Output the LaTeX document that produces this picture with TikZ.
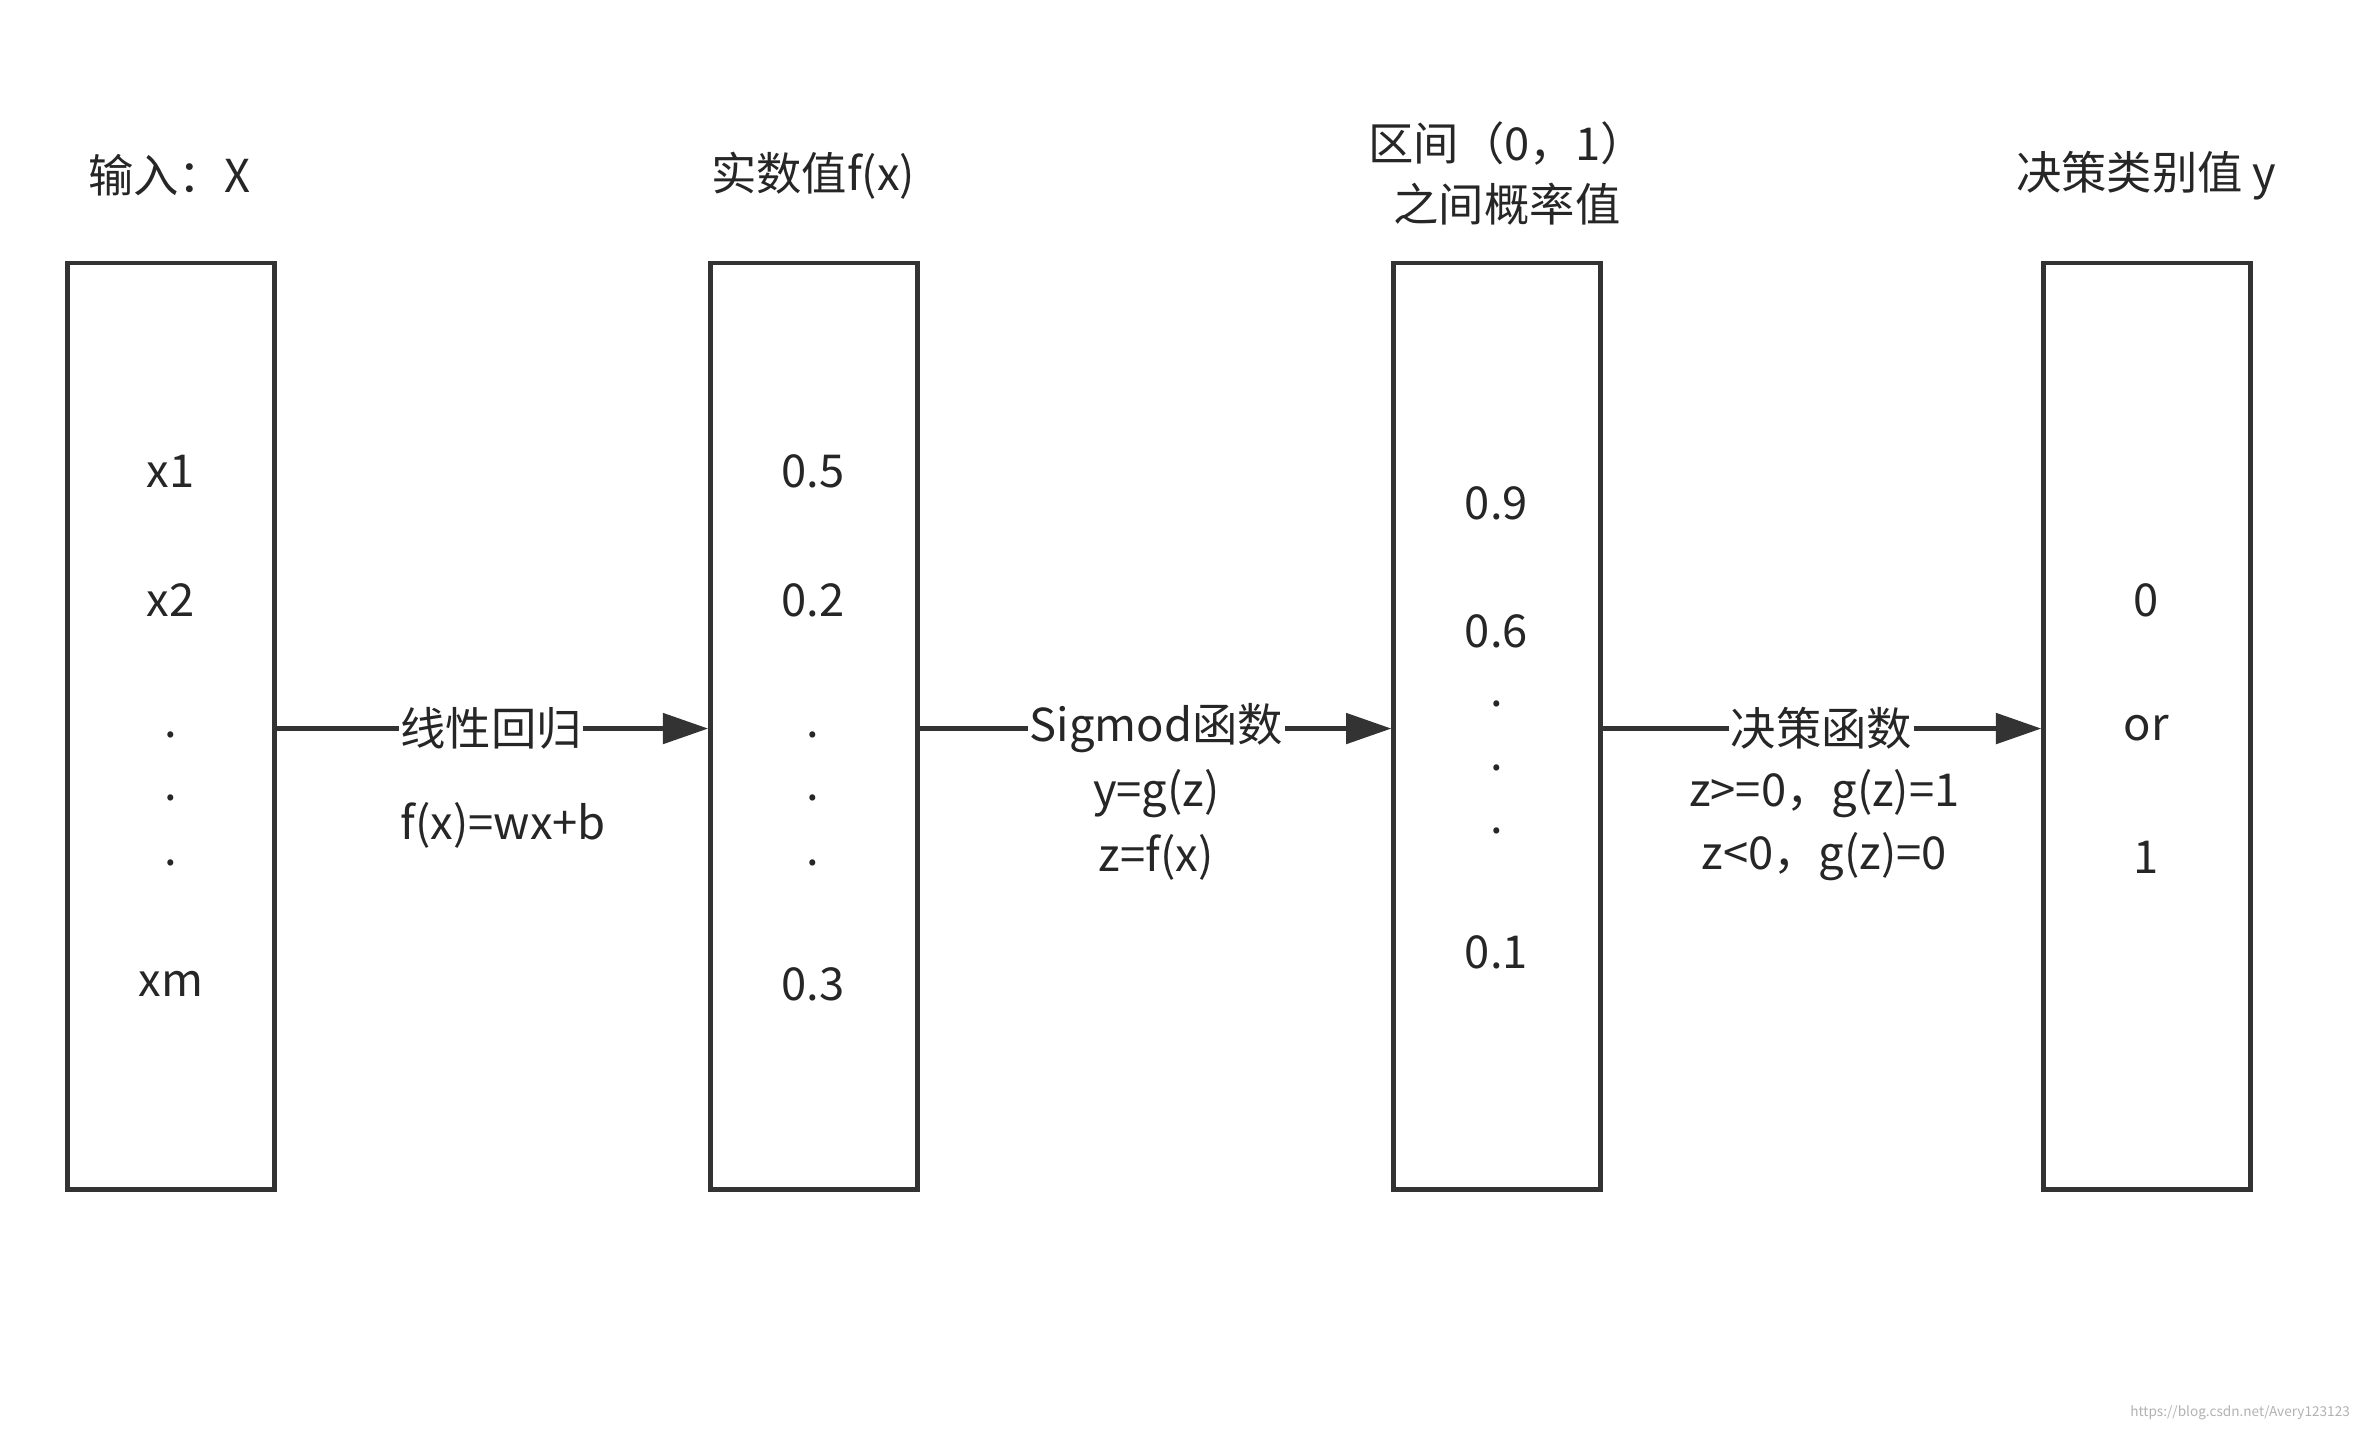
\documentclass[tikz,border=0pt]{standalone}
\usepackage{fontspec}
\setmainfont{Noto Sans CJK SC}
\usetikzlibrary{arrows.meta}
\begin{document}
\begin{tikzpicture}[x=1pt,y=-1pt,
  col/.style={draw=black!80,line width=3pt},
  txt/.style={font=\fontsize{30}{36}\selectfont,text=black!85,inner sep=1pt},
  lbl/.style={txt,fill=white},
  arr/.style={line width=3pt,draw=black!80,-{Triangle[length=30pt,width=20pt]}}]
\useasboundingbox (0,0) rectangle (1564,945);
\fill[white] (0,0) rectangle (1564,945);
\foreach \n/\x in {b1/113,b2/538.5,b3/990.5,b4/1420.5}
  \node[col,minimum width=137pt,minimum height=613pt,inner sep=0pt] (\n) at (\x,480.5) {};
\node[txt] (t1) at (112,116) {输入：X};
\node[txt] (t2) at (538,116) {实数值f(x)};
\node[txt] (t3a) at (997,95) {区间（0，1）};
\node[txt] (t3b) at (997,135) {之间概率值};
\node[txt] (t4) at (1420,116) {决策类别值 y};
% box contents
\node[txt] (a1) at (113,312) {x1};
\node[txt] (a2) at (113,397) {x2};
\node[txt] (a3) at (113,486) {.};
\node[txt] (a4) at (113,528) {.};
\node[txt] (a5) at (113,571) {.};
\node[txt] (a6) at (113,651) {xm};
\node[txt] (c1) at (538,312) {0.5};
\node[txt] (c2) at (538,397) {0.2};
\node[txt] (c3) at (538,486) {.};
\node[txt] (c4) at (538,528) {.};
\node[txt] (c5) at (538,571) {.};
\node[txt] (c6) at (538,651) {0.3};
\node[txt] (d1) at (990,333) {0.9};
\node[txt] (d2) at (990,418) {0.6};
\node[txt] (d3) at (990,466) {.};
\node[txt] (d4) at (990,508) {.};
\node[txt] (d5) at (990,550) {.};
\node[txt] (d6) at (990,630) {0.1};
\node[txt] (e1) at (1420,397) {0};
\node[txt] (e2) at (1420,482) {or};
\node[txt] (e3) at (1420,567) {1};
% arrows
\draw[arr] (b1.east |- 0,482) -- (b2.west |- 0,482);
\draw[arr] (b2.east |- 0,482) -- (b3.west |- 0,482);
\draw[arr] (b3.east |- 0,482) -- (b4.west |- 0,482);
\node[lbl] (l1) at (325,482) {线性回归};
\node[txt] (l1b) at (333,546) {f(x)=wx+b};
\node[lbl] (l2) at (765,482) {Sigmod函数};
\node[txt] (l2b) at (765,525) {y=g(z)};
\node[txt] (l2c) at (765,567) {z=f(x)};
\node[lbl] (l3) at (1205,482) {决策函数};
\node[txt] (l3b) at (1207,525) {z>=0，g(z)=1};
\node[txt] (l3c) at (1207,567) {z<0，g(z)=0};
\node[font=\fontsize{9}{10}\selectfont,text=black!30] (wm) at (1482,935) {https://blog.csdn.net/Avery123123};
\end{tikzpicture}
\end{document}
